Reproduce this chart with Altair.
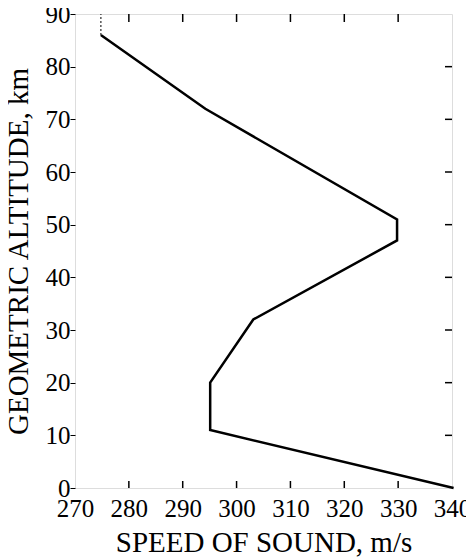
import altair as alt
import pandas as pd

speed = [340.3, 295.1, 295.1, 303.1, 329.8, 329.8, 294.2, 274.8]
altitude = [0, 11, 20, 32, 47, 51, 72, 86]
dotted_speed = [274.8, 274.8]
dotted_alt = [86, 90]
x_ticks = [280, 290, 300, 310, 320, 330]
y_ticks = [10, 20, 30, 40, 50, 60, 70, 80]

W, H = 377, 474
FONT = "Liberation Serif"

df = pd.DataFrame({"speed": speed, "alt": altitude, "order": list(range(len(speed)))})
dd = pd.DataFrame({"speed": dotted_speed, "alt": dotted_alt})
xt = pd.DataFrame({"v": x_ticks})
yt = pd.DataFrame({"v": y_ticks})

xscale = alt.Scale(domain=[270, 340], nice=False, zero=False)
yscale = alt.Scale(domain=[0, 90], nice=False)

xaxis = alt.Axis(values=list(range(270, 341, 10)), title="SPEED OF SOUND, m/s",
                 grid=False, ticks=False, domain=False, labelFont=FONT, labelFontSize=25,
                 labelColor="black", labelPadding=8, titleFont=FONT, titleFontSize=29,
                 titleFontWeight="normal", titleColor="black", titleY=63,
                 titleBaseline="alphabetic", labelFlush=False)
yaxis = alt.Axis(values=list(range(0, 91, 10)), title="GEOMETRIC ALTITUDE, km",
                 grid=False, ticks=True, tickSize=5, tickColor="black", domain=False,
                 labelFont=FONT, labelFontSize=25, labelColor="black", labelPadding=0,
                 titleFont=FONT, titleFontSize=29, titleFontWeight="normal",
                 titleColor="black", titleX=-57, titleBaseline="middle", labelFlush=False)

line = alt.Chart(df).mark_line(color="black", strokeWidth=2.5).encode(
    x=alt.X("speed:Q", scale=xscale, axis=xaxis),
    y=alt.Y("alt:Q", scale=yscale, axis=yaxis),
    order="order:Q",
)

dots = alt.Chart(dd).mark_line(color="#555", strokeWidth=1.5, strokeDash=[2, 2]).encode(
    x=alt.X("speed:Q", scale=xscale),
    y=alt.Y("alt:Q", scale=yscale),
)

bottom_ticks = alt.Chart(xt).mark_rule(color="black", strokeWidth=1.5).encode(
    x=alt.X("v:Q", scale=xscale), y=alt.value(H), y2=alt.value(H - 7))
top_ticks = alt.Chart(xt).mark_rule(color="black", strokeWidth=1.5).encode(
    x=alt.X("v:Q", scale=xscale), y=alt.value(0), y2=alt.value(8))
right_ticks = alt.Chart(yt).mark_rule(color="black", strokeWidth=1.5).encode(
    y=alt.Y("v:Q", scale=yscale), x=alt.value(W), x2=alt.value(W - 7))

chart = alt.layer(line, dots, bottom_ticks, top_ticks, right_ticks).properties(
    width=W, height=H,
    autosize=alt.AutoSizeParams(type="none"),
    padding={"left": 67, "top": 6, "right": 14, "bottom": 70},
).configure_view(stroke="black", strokeWidth=1.5).configure(background="white")

chart.save("out.html", embed_options={"renderer": "svg", "actions": False})
